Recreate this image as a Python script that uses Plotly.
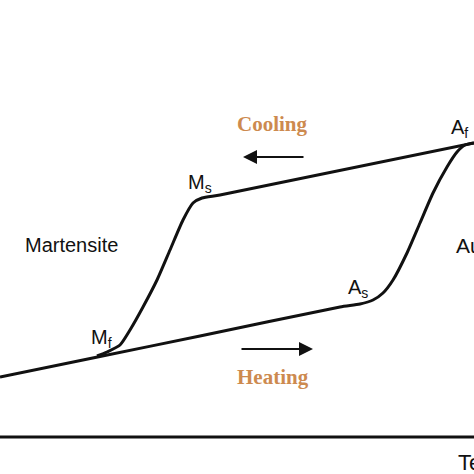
import plotly.graph_objects as go

# Data (temperature axis units, property axis units)
heat_T = [0, 100, 200, 340, 360, 373, 383, 393, 407, 420, 433, 447, 457, 465, 474]
heat_P = [97, 117.5, 138, 167, 170, 174, 181, 194, 221, 251, 281, 307, 322, 329, 331]

cool_T = [474, 220, 202, 193, 183, 170, 157, 143, 130, 120, 107, 97]
cool_P = [331, 279, 276, 271, 254, 224, 194, 167, 144, 129, 122, 118]

axis_P = 37

fig = go.Figure()
fig.add_trace(go.Scatter(x=heat_T, y=heat_P, mode="lines",
                         line=dict(color="#111111", width=3, shape="spline", smoothing=0.6),
                         hoverinfo="skip"))
fig.add_trace(go.Scatter(x=cool_T, y=cool_P, mode="lines",
                         line=dict(color="#111111", width=3, shape="spline", smoothing=0.6),
                         hoverinfo="skip"))

fig.add_shape(type="line", xref="paper", yref="y", x0=0, x1=1, y0=axis_P, y1=axis_P,
              line=dict(color="#111111", width=3))

sans = "Liberation Sans, Arial, sans-serif"
serif = "Liberation Serif, Times New Roman, serif"
orange = "#CD8A4F"

ann = [
    dict(x=71, y=229, text="Martensite", font=dict(family=sans, size=20, color="#111"), xanchor="center"),
    dict(x=454, y=229, text="Austenite", font=dict(family=sans, size=21, color="#111"), xanchor="left"),
    dict(x=456, y=12, text="Temperature", font=dict(family=sans, size=22, color="#111"), xanchor="left"),
    dict(x=272, y=350, text="<b>Cooling</b>", font=dict(family=serif, size=21, color=orange)),
    dict(x=273, y=97, text="<b>Heating</b>", font=dict(family=serif, size=21, color=orange)),
    dict(x=200, y=291, text="M<sub>s</sub>", font=dict(family=sans, size=20, color="#111")),
    dict(x=101, y=136, text="M<sub>f</sub>", font=dict(family=sans, size=20, color="#111")),
    dict(x=358, y=186, text="A<sub>s</sub>", font=dict(family=sans, size=20, color="#111")),
    dict(x=459, y=346, text="A<sub>f</sub>", font=dict(family=sans, size=20, color="#111")),
]
for a in ann:
    a.update(xref="x", yref="y", showarrow=False)
    fig.add_annotation(**a)

# arrows
fig.add_annotation(x=243, y=317, ax=305, ay=317, xref="x", yref="y", axref="x", ayref="y",
                   text="", showarrow=True, arrowhead=2, arrowsize=1.4, arrowwidth=2, arrowcolor="#111")
fig.add_annotation(x=313, y=125, ax=240, ay=125, xref="x", yref="y", axref="x", ayref="y",
                   text="", showarrow=True, arrowhead=2, arrowsize=1.4, arrowwidth=2, arrowcolor="#111")

fig.update_layout(
    width=474, height=474,
    margin=dict(l=0, r=0, t=0, b=0),
    paper_bgcolor="white", plot_bgcolor="white",
    showlegend=False,
    xaxis=dict(range=[0, 474], visible=False, fixedrange=True),
    yaxis=dict(range=[0, 474], visible=False, fixedrange=True),
)

fig.write_html("out.html", config=dict(displayModeBar=False),
               post_script="document.body.style.margin='0';document.body.style.padding='0';document.body.style.overflow='hidden';")
